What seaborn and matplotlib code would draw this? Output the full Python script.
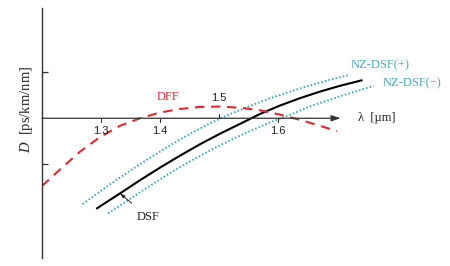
import matplotlib
matplotlib.use("Agg")
import matplotlib.pyplot as plt
import seaborn as sns
import pandas as pd

# wavelength [um] and dispersion D [ps/km/nm]
dsf_wl = [1.293, 1.332, 1.366, 1.400, 1.434, 1.468, 1.502, 1.536, 1.570,
          1.603, 1.637, 1.671, 1.705, 1.742]
dsf_d = [-19.57, -16.33, -13.46, -10.72, -8.11, -5.63, -3.33, -1.20, 0.96,
         2.74, 4.35, 5.78, 7.04, 8.24]

nzp_wl = [1.269, 1.315, 1.349, 1.383, 1.417, 1.451, 1.485, 1.519, 1.553,
          1.586, 1.620, 1.654, 1.688, 1.719]
nzp_d = [-18.63, -14.37, -11.41, -8.59, -5.89, -3.35, -1.09, 0.91, 2.70,
         4.30, 5.78, 7.13, 8.35, 9.35]

nzm_wl = [1.312, 1.349, 1.383, 1.417, 1.451, 1.485, 1.519, 1.553, 1.586,
          1.620, 1.654, 1.688, 1.722, 1.762]
nzm_d = [-20.67, -17.52, -14.67, -11.89, -9.35, -6.96, -4.76, -2.76, -0.93,
         0.72, 2.59, 4.04, 5.46, 7.02]

dff_wl = [1.200, 1.231, 1.264, 1.298, 1.332, 1.366, 1.400, 1.434, 1.468,
          1.502, 1.536, 1.570, 1.603, 1.637, 1.671, 1.700]
dff_d = [-14.70, -11.07, -7.30, -4.11, -1.65, 0.00, 1.24, 2.02, 2.46,
         2.54, 2.28, 1.72, 0.80, -0.33, -1.63, -2.80]

xticks = [1.3, 1.4, 1.6]
xtick_labels = ["1.3", "1.4", "1.6"]
label_15 = "1.5"
yticks = [-10, 10]

sns.set_theme(style="white")
plt.rcParams["font.family"] = ["Liberation Serif", "DejaVu Serif"]
plt.rcParams["mathtext.fontset"] = "custom"
plt.rcParams["mathtext.it"] = "Liberation Serif:italic"
plt.rcParams["mathtext.rm"] = "Liberation Serif"

RED = "#e0282e"
TEAL = "#3aa6c4"
TEAL_TXT = "#4aa8c4"
AX = "#333333"

fig = plt.figure(figsize=(4.5, 2.66), dpi=100)
ax = fig.add_axes([42 / 450, 7.7 / 266, 408 / 450, 250.6 / 266])

df = pd.concat([
    pd.DataFrame({"wl": dsf_wl, "D": dsf_d, "fiber": "DSF"}),
    pd.DataFrame({"wl": nzp_wl, "D": nzp_d, "fiber": "NZ+"}),
    pd.DataFrame({"wl": nzm_wl, "D": nzm_d, "fiber": "NZ-"}),
    pd.DataFrame({"wl": dff_wl, "D": dff_d, "fiber": "DFF"}),
])

sns.lineplot(data=df[df.fiber == "DSF"], x="wl", y="D", ax=ax, color="black", lw=1.5)
sns.lineplot(data=df[df.fiber == "NZ+"], x="wl", y="D", ax=ax, color=TEAL, lw=1.4,
             linestyle=(0, (0.8, 1.1)))
sns.lineplot(data=df[df.fiber == "NZ-"], x="wl", y="D", ax=ax, color=TEAL, lw=1.4,
             linestyle=(0, (0.8, 1.1)))
sns.lineplot(data=df[df.fiber == "DFF"], x="wl", y="D", ax=ax, color=RED, lw=1.5,
             linestyle=(0, (4.5, 3.2)))

ax.set_xlim(1.2, 1.2 + 408 / 590)
ax.set_ylim(-30.4, 24.0)

for s in ["top", "right", "bottom"]:
    ax.spines[s].set_visible(False)
ax.spines["left"].set_color(AX)
ax.spines["left"].set_linewidth(1.0)

# horizontal wavelength axis with arrow
ax.annotate("", xy=(1.706, 0), xytext=(1.2, 0),
            arrowprops=dict(arrowstyle="-|>,head_length=0.45,head_width=0.15",
                            color=AX, lw=0.9, shrinkA=0, shrinkB=0))

ax.set_xticks([])
ax.set_yticks(yticks)
ax.set_yticklabels([])
ax.tick_params(axis="y", direction="in", length=4, width=0.9, color=AX, left=True)
ax.set_xlabel("")

for x, lab in zip(xticks, xtick_labels):
    ax.plot([x, x], [0, -0.9], color=AX, lw=0.8)
    ax.text(x, -1.6, lab, ha="center", va="top", fontsize=8,
            family="Liberation Sans", color="#222222")
ax.plot([1.5, 1.5], [0, 0.9], color=AX, lw=0.8)
ax.text(1.5, 3.4, label_15, ha="center", va="bottom", fontsize=8,
        family="Liberation Sans", color="#222222")

ax.text(1.735, 0, "λ  [µm]", ha="left", va="center", fontsize=9, color="#222222")
ax.text(1.4136, 4.6, "DFF", ha="center", va="center", fontsize=9, color=RED)
ax.text(1.7729, 11.6, "NZ-DSF(+)", ha="center", va="center", fontsize=9, color=TEAL_TXT)
ax.text(1.827, 7.5, "NZ-DSF(−)", ha="center", va="center", fontsize=9, color=TEAL_TXT)
ax.annotate("DSF", xy=(1.3322, -16.33), xytext=(1.3802, -21.4),
            ha="center", va="center", fontsize=9, color="#222222",
            arrowprops=dict(arrowstyle="-|>,head_length=0.3,head_width=0.1",
                            color="#222222", lw=0.7, shrinkA=5, shrinkB=0))

ax.set_ylabel(r"$D$  [ps/km/nm]", fontsize=10.5, color="#222222")
ax.yaxis.set_label_coords(-0.018, 0.593)

fig.savefig("out.png", dpi=100)
